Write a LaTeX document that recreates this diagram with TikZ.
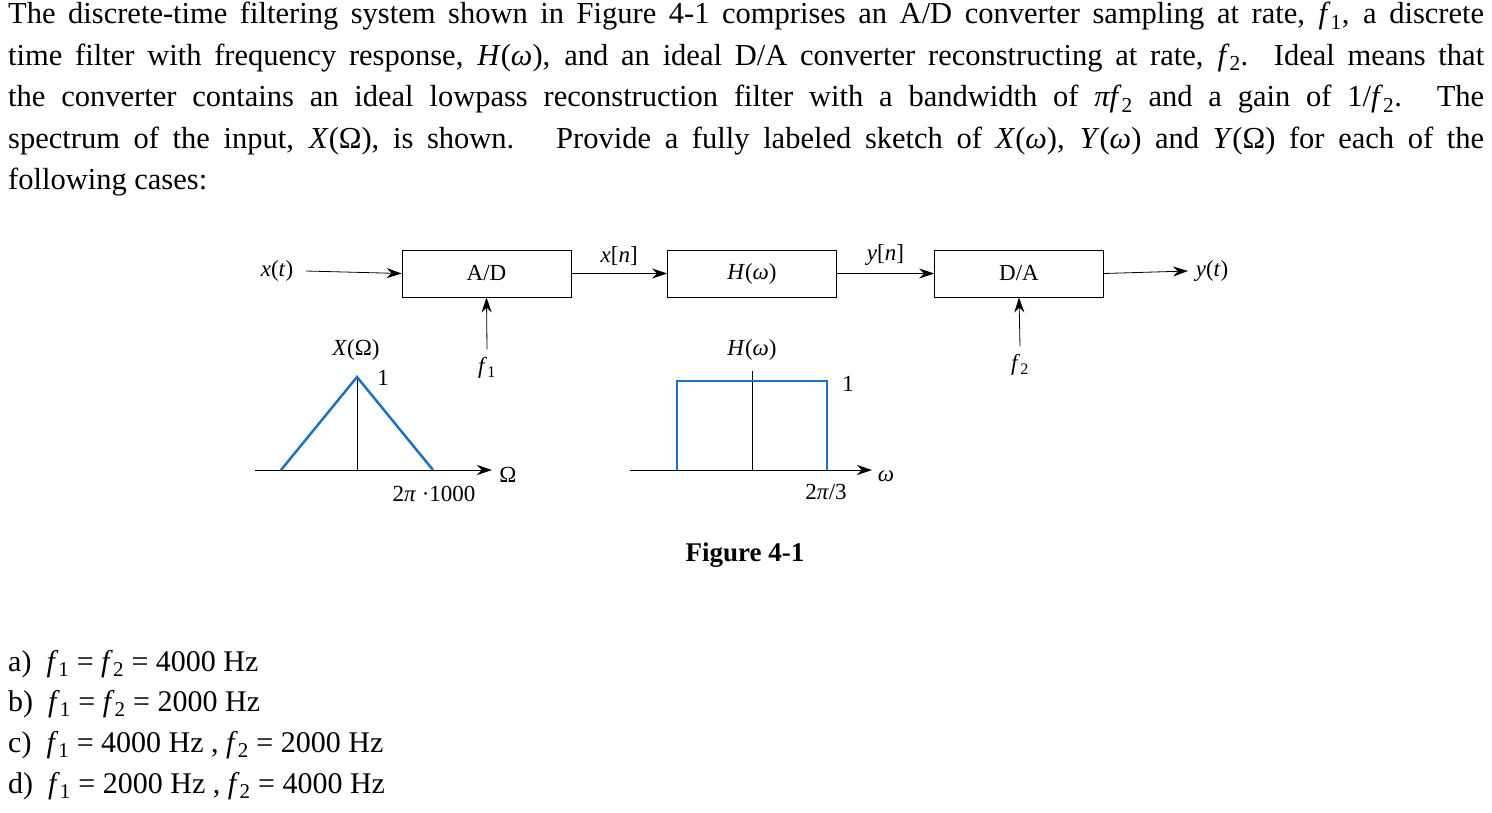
\documentclass[tikz,border=0pt]{standalone}
\usepackage{fontspec}
\setmainfont{Liberation Serif}
\usetikzlibrary{arrows.meta}
\newcommand{\vi}[1]{\textit{#1}}
\begin{document}
\begin{tikzpicture}[x=1pt,y=-1pt,
  blk/.style={draw,line width=0.8pt,minimum width=169pt,minimum height=47pt,inner sep=0pt,font=\fontsize{23}{25}\selectfont},
  lab/.style={font=\fontsize{23}{25}\selectfont,inner sep=0pt},
  arr/.style={line width=0.8pt,-{Stealth[length=15pt,width=10pt]}},
  sig/.style={line width=2.5pt,draw={rgb,255:red,30;green,115;blue,190}},
  thin/.style={line width=0.8pt}]
\useasboundingbox (0,0) rectangle (1492,812);
\node[anchor=north west,text width=1476pt,align=justify,inner sep=0pt,font=\fontsize{30.5}{41.5}\selectfont] (par) at (8,2)
{The discrete-time filtering system shown in Figure 4-1 comprises an A/D converter sampling at rate, \vi{f}\textsubscript{1}, a discrete\linebreak time filter with frequency response, \vi{H}(\vi{ω}), and an ideal D/A converter reconstructing at rate, \vi{f}\textsubscript{2}. Ideal means that\linebreak the converter contains an ideal lowpass reconstruction filter with a bandwidth of \vi{πf}\textsubscript{2} and a gain of 1/\vi{f}\textsubscript{2}. The\linebreak spectrum of the input, \vi{X}(Ω), is shown. \ Provide a fully labeled sketch of \vi{X}(\vi{ω}), \vi{Y}(\vi{ω}) and \vi{Y}(Ω) for each of the\linebreak following cases:};
% block diagram
\node[lab] (xt) at (277,271) {\vi{x}(\vi{t})};
\node[blk] (ad) at (486.5,273.5) {A/D};
\node[blk] (h) at (752,273.5) {\vi{H}(\vi{ω})};
\node[blk] (da) at (1019,273.5) {D/A};
\node[lab] (yt) at (1212,271) {\vi{y}(\vi{t})};
\coordinate (xs) at (306,271);
\coordinate (ye) at (1188,271);
\draw[arr] (xs) -- (ad.west);
\draw[arr] (ad.east) -- node[lab,above=8pt] {\vi{x}[\vi{n}]} (h.west);
\draw[arr] (h.east) -- node[lab,above=8pt] {\vi{y}[\vi{n}]} (da.west);
\draw[arr] (da.east) -- (ye);
\node[lab] (f1) at (487,368) {\vi{f}\textsubscript{1}};
\node[lab] (f2) at (1020,365) {\vi{f}\textsubscript{2}};
\draw[arr] (f1.north) ++(0,-8) -- (ad.south);
\draw[arr] (f2.north) ++(0,-8) -- (da.south);
% X(Omega)
\coordinate (xa0) at (255,470); \coordinate (xa1) at (492,470);
\draw[arr] (xa0) -- (xa1);
\node[lab] (Om) at (508,475) {Ω};
\draw[thin] (357,470) -- (357,377);
\draw[sig,line join=miter] (281,470) -- (357,377) -- (433,470);
\node[lab] (Xl) at (356,350) {\vi{X}(Ω)};
\node[lab] (x1) at (383,378) {1};
\node[lab] (x2) at (434,494) {2\vi{π} ·1000};
% H(omega)
\coordinate (ha0) at (630,470); \coordinate (ha1) at (872,470);
\draw[arr] (ha0) -- (ha1);
\node[lab] (om) at (886,476) {\vi{ω}};
\draw[thin] (752,470) -- (752,371);
\draw[sig] (677,470) -- (677,381) -- (827,381) -- (827,470);
\node[lab] (Hl) at (752,350) {\vi{H}(\vi{ω})};
\node[lab] (h1) at (848,384) {1};
\node[lab] (h2) at (826,492) {2\vi{π}/3};
\node[font=\bfseries\fontsize{27}{29}\selectfont,inner sep=0pt] (fig) at (745,555) {Figure 4-1};
% cases
\tikzset{cs/.style={anchor=west,inner sep=0pt,font=\fontsize{30}{32}\selectfont}}
\node[cs] (ca) at (8,664) {a) \ \vi{f}\textsubscript{1} = \vi{f}\textsubscript{2} = 4000 Hz};
\node[cs] (cb) at (8,704) {b) \ \vi{f}\textsubscript{1} = \vi{f}\textsubscript{2} = 2000 Hz};
\node[cs] (cc) at (8,745) {c) \ \vi{f}\textsubscript{1} = 4000 Hz , \vi{f}\textsubscript{2} = 2000 Hz};
\node[cs] (cd) at (8,786) {d) \ \vi{f}\textsubscript{1} = 2000 Hz , \vi{f}\textsubscript{2} = 4000 Hz};
\end{tikzpicture}
\end{document}
